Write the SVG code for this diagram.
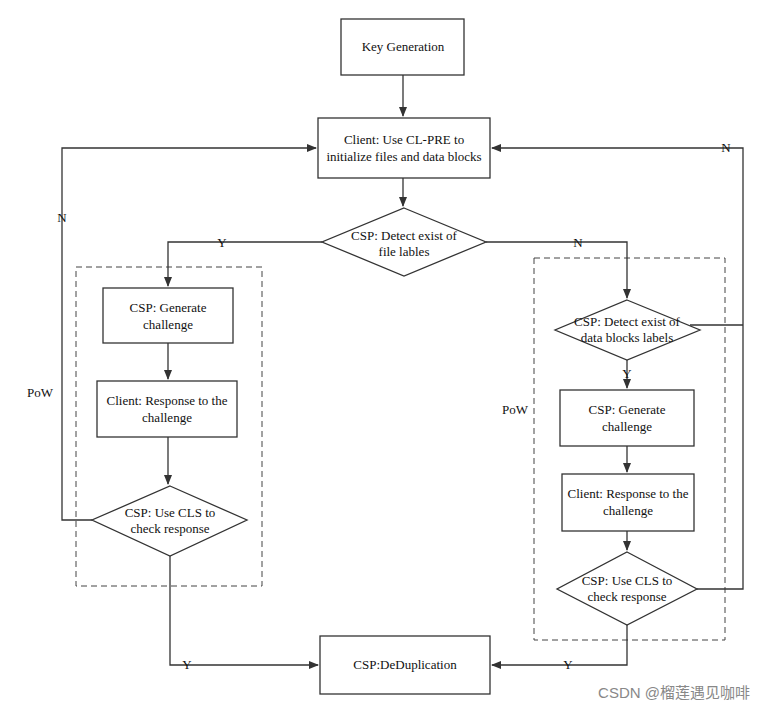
<svg xmlns="http://www.w3.org/2000/svg" width="765" height="712" viewBox="0 0 765 712">
<style>
.b{fill:#fff;stroke:#333;stroke-width:1.3}
.t{font-family:"Liberation Serif",serif;font-size:13px;fill:#111;text-anchor:middle}
.l{fill:none;stroke:#333;stroke-width:1.3}
.d{fill:none;stroke:#444;stroke-width:1;stroke-dasharray:6 4}
</style>
<defs><marker id="a" markerWidth="10" markerHeight="8" refX="9" refY="4" orient="auto" markerUnits="userSpaceOnUse"><path d="M0,0L10,4L0,8z" fill="#333"/></marker></defs>
<rect width="765" height="712" fill="#fff"/>
<g id="groups"><rect class="d" x="76" y="267" width="186" height="319"/><rect class="d" x="534" y="258" width="191" height="382"/></g>
<g id="connectors">
<path class="l" d="M403,75V116" marker-end="url(#a)"/>
<path class="l" d="M403,178V206" marker-end="url(#a)"/>
<path class="l" d="M322,242H168V286" marker-end="url(#a)"/>
<path class="l" d="M486,242H627V298" marker-end="url(#a)"/>
<path class="l" d="M168,343V379" marker-end="url(#a)"/>
<path class="l" d="M168,437V484" marker-end="url(#a)"/>
<path class="l" d="M92,520H62V148H316" marker-end="url(#a)"/>
<path class="l" d="M697,589H743V148H492" marker-end="url(#a)"/>
<path class="l" d="M690,325H743"/>
<path class="l" d="M627,360V388" marker-end="url(#a)"/>
<path class="l" d="M627,446V472" marker-end="url(#a)"/>
<path class="l" d="M627,531V550" marker-end="url(#a)"/>
<path class="l" d="M170,556V665H318" marker-end="url(#a)"/>
<path class="l" d="M627,625V665H492" marker-end="url(#a)"/>
</g>
<g id="labels" class="t">
<text x="222" y="247">Y</text><text x="578" y="247">N</text>
<text x="62" y="222">N</text><text x="726" y="152">N</text>
<text x="187" y="669">Y</text><text x="568" y="669">Y</text>
<text x="627" y="378">Y</text>
<text x="40" y="397">PoW</text><text x="515" y="414">PoW</text>
</g>
<g id="key"><rect class="b" x="341" y="19" width="123" height="56"/><text class="t" x="403" y="51">Key Generation</text></g>
<g id="client"><rect class="b" x="318" y="118" width="172" height="60"/><text class="t" x="404" y="144">Client: Use CL-PRE to</text><text class="t" x="404" y="161">initialize files and data blocks</text></g>
<g id="d1"><path class="b" d="M404,208L486,242L404,276L322,242z"/><text class="t" x="404" y="240">CSP: Detect exist of</text><text class="t" x="404" y="256">file lables</text></g>
<g id="gl"><rect class="b" x="103" y="288" width="130" height="55"/><text class="t" x="168" y="312">CSP: Generate</text><text class="t" x="168" y="329">challenge</text></g>
<g id="rl"><rect class="b" x="97" y="381" width="140" height="56"/><text class="t" x="167" y="405">Client: Response to the</text><text class="t" x="167" y="422">challenge</text></g>
<g id="dl"><path class="b" d="M170,486L247,520L170,556L92,520z"/><text class="t" x="170" y="517">CSP: Use CLS to</text><text class="t" x="170" y="533">check response</text></g>
<g id="dr1"><path class="b" d="M627,300L700,330L627,360L555,330z"/><text class="t" x="627" y="326">CSP: Detect exist of</text><text class="t" x="627" y="342">data blocks labels</text></g>
<g id="gr"><rect class="b" x="560" y="390" width="134" height="56"/><text class="t" x="627" y="414">CSP: Generate</text><text class="t" x="627" y="431">challenge</text></g>
<g id="rr"><rect class="b" x="562" y="474" width="132" height="57"/><text class="t" x="628" y="498">Client: Response to the</text><text class="t" x="628" y="515">challenge</text></g>
<g id="dr2"><path class="b" d="M627,552L697,589L627,625L557,589z"/><text class="t" x="627" y="585">CSP: Use CLS to</text><text class="t" x="627" y="601">check response</text></g>
<g id="dedup"><rect class="b" x="320" y="636" width="170" height="58"/><text class="t" x="405" y="669">CSP:DeDuplication</text></g>
<text x="750" y="698" style="font-family:'Liberation Sans','Noto Sans CJK SC',sans-serif;font-size:15px;fill:#888;text-anchor:end">CSDN @榴莲遇见咖啡</text>
</svg>
